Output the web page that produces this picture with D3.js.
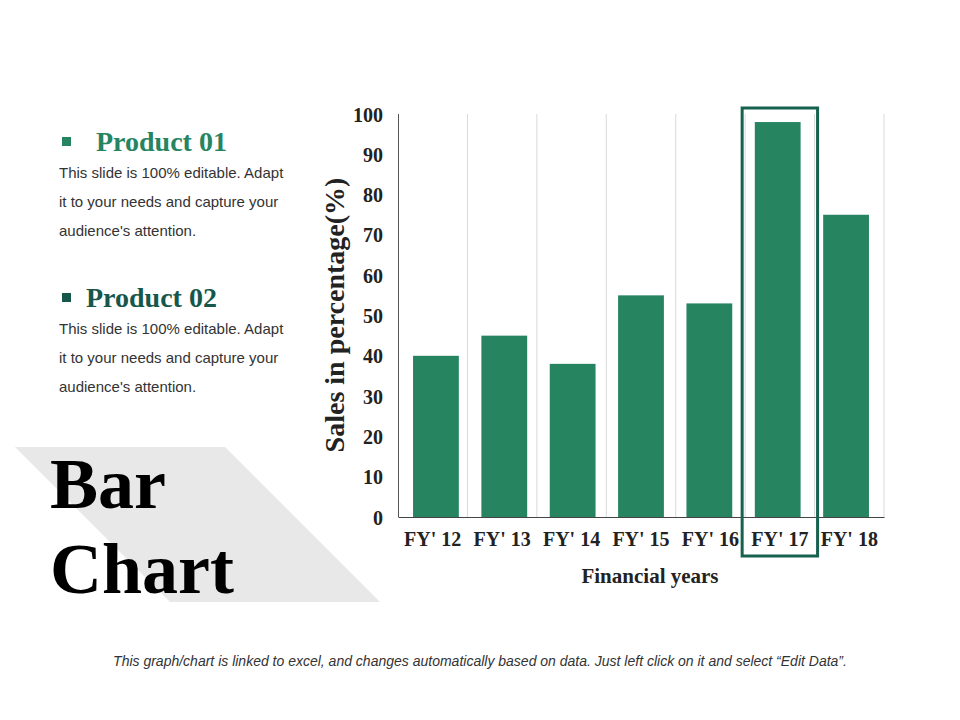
<!DOCTYPE html>
<html><head><meta charset="utf-8">
<script src="https://cdn.jsdelivr.net/npm/d3@7"></script>
<style>body{margin:0;background:#fff}</style>
</head><body><svg id="c" width="960" height="720"></svg>
<script>
const categories = ["FY' 12","FY' 13","FY' 14","FY' 15","FY' 16","FY' 17","FY' 18"];
const values = [40,45,38,55,53,98,75];
const yTicks = [0,10,20,30,40,50,60,70,80,90,100];
const highlight = "FY' 17";

const svg = d3.select("#c");
const serif = "'Liberation Serif','Times New Roman',serif";
const sans = "'Liberation Sans',Arial,sans-serif";
const green = "#268560";

// decorative parallelogram
svg.append("polygon").attr("points","15,447 225,447 380,602 170,602").attr("fill","#e8e8e8");
svg.append("text").attr("x",50).attr("y",508).attr("font-family",serif).attr("font-weight","bold").attr("font-size",72).text("Bar");
svg.append("text").attr("x",50).attr("y",593).attr("font-family",serif).attr("font-weight","bold").attr("font-size",72).text("Chart");

// product blocks
const prods = [{t:"Product 01",c:"#268560",tx:96,y:151},{t:"Product 02",c:"#17574b",tx:86,y:307}];
prods.forEach(p=>{
  svg.append("rect").attr("x",62).attr("y",p.y-14).attr("width",9).attr("height",9).attr("fill",p.c);
  svg.append("text").attr("x",p.tx).attr("y",p.y).attr("font-family",serif).attr("font-weight","bold").attr("font-size",28).attr("fill",p.c).text(p.t);
  ["This slide is 100% editable. Adapt","it to your needs and capture your","audience's attention."].forEach((l,i)=>{
    svg.append("text").attr("x",59).attr("y",p.y+27+i*29).attr("font-family",sans).attr("font-size",15).attr("fill","#333").text(l);
  });
});

// chart
const L=398,R=884,T=114,B=517;
const x = d3.scaleBand().domain(categories).range([L,R]).paddingInner(0.33).paddingOuter(0.22);
const xs = d3.scaleBand().domain(categories).range([L,R]);
const y = d3.scaleLinear().domain([0,100]).range([B,T]);

// vertical gridlines
svg.append("g").selectAll("line").data(categories.slice(1).concat(["end"])).join("line")
  .attr("x1",d=>d==="end"?R:xs(d)).attr("x2",d=>d==="end"?R:xs(d))
  .attr("y1",T).attr("y2",B).attr("stroke","#d9d9d9");
svg.append("line").attr("x1",L+0.5).attr("x2",L+0.5).attr("y1",T).attr("y2",B).attr("stroke","#555");

svg.append("g").selectAll("rect").data(values).join("rect")
  .attr("x",(d,i)=>x(categories[i])).attr("width",x.bandwidth())
  .attr("y",d=>y(d)).attr("height",d=>B-y(d)).attr("fill",green);

const ya = svg.append("g").attr("transform",`translate(${L-12},0)`)
  .call(d3.axisLeft(y).tickValues(yTicks).tickSize(0));
ya.select(".domain").remove();
ya.selectAll("text").attr("font-family",serif).attr("font-weight","bold").attr("font-size",20).attr("fill","#222").attr("dy","0.35em");

const xa = svg.append("g").attr("transform",`translate(0,${B})`)
  .call(d3.axisBottom(xs).tickSize(0));
xa.select(".domain").attr("stroke","#444");
xa.selectAll("text").attr("font-family",serif).attr("font-weight","bold").attr("font-size",20).attr("fill","#222").attr("dy","1.3em");

// highlight box
svg.append("rect").attr("x",xs(highlight)-3).attr("y",108).attr("width",xs.bandwidth()+6).attr("height",448)
  .attr("fill","none").attr("stroke","#17614f").attr("stroke-width",3);

svg.append("text").attr("x",650).attr("y",583).attr("text-anchor","middle").attr("font-family",serif).attr("font-weight","bold").attr("font-size",21).attr("fill","#222").text("Financial years");
svg.append("text").attr("transform","translate(344,315) rotate(-90)").attr("text-anchor","middle").attr("font-family",serif).attr("font-weight","bold").attr("font-size",28).attr("fill","#222").text("Sales in percentage(%)");

svg.append("text").attr("x",480).attr("y",666).attr("text-anchor","middle").attr("font-family",sans).attr("font-style","italic").attr("font-size",14).attr("fill","#333")
  .text("This graph/chart is linked to excel, and changes automatically based on data. Just left click on it and select “Edit Data”.");
</script></body></html>
